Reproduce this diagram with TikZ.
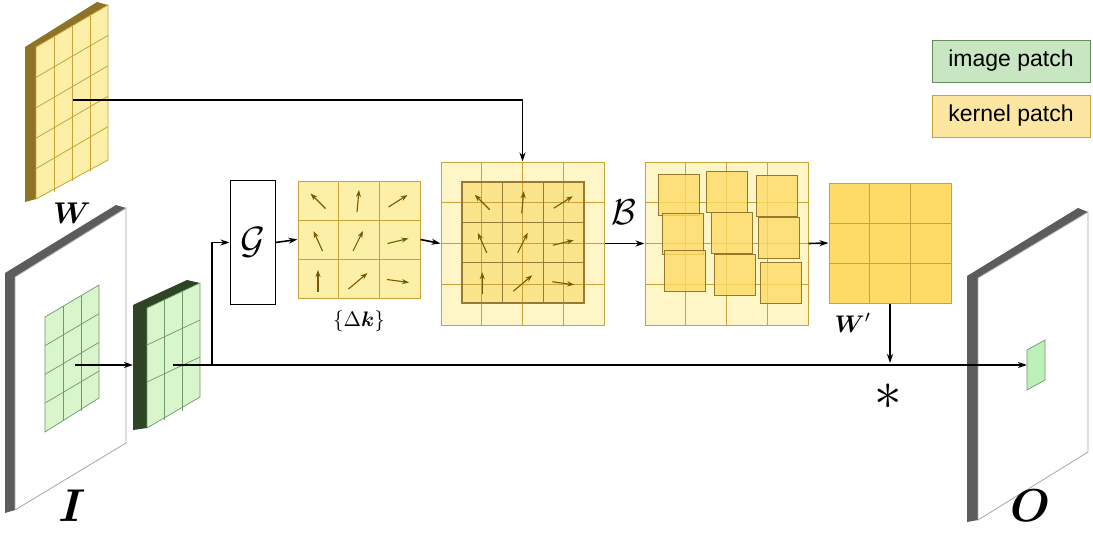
\documentclass[tikz,border=0pt]{standalone}
\usepackage{amsmath}
\usepackage{fontspec}
\newfontfamily\legfont{Liberation Sans}
\usetikzlibrary{arrows.meta}
\definecolor{kline}{HTML}{C9A23A}
\definecolor{kfill}{HTML}{FCEFA8}
\definecolor{kpale}{HTML}{FFF6C8}
\definecolor{kmid}{HTML}{FBE58C}
\definecolor{kdeep}{HTML}{FDDB66}
\definecolor{kdark}{HTML}{7A5A00}
\definecolor{gfill}{HTML}{D8F5CC}
\definecolor{gline}{HTML}{6F9A68}
\definecolor{gdark}{HTML}{2E4424}
\definecolor{side}{HTML}{5C5C5C}
\definecolor{leggreen}{HTML}{C9E6C2}
\definecolor{legyellow}{HTML}{FDE6A2}
\tikzset{
  conn/.style={line width=1.6pt,-{Stealth[length=9pt,width=6pt]}},
  varrow/.style={kdark,line width=1.1pt,-{Stealth[length=7pt,width=5pt]}},
  gridbox/.style={draw=kline,line width=1pt,inner sep=0pt},
  legbox/.style={draw,line width=1pt,minimum width=158pt,minimum height=42pt,font=\legfont\fontsize{23}{25}\selectfont}
}
\newcommand{\cellarrows}[3]{% #1 = x0, #2 = y0 (top-left), #3 cell size
  \foreach \c/\r/\dx/\dy in {0/0/-15/-15,1/0/2/-22,2/0/19/-12,0/1/-9/-20,1/1/10/-20,2/1/21/-5,0/2/0/-22,1/2/19/-16,2/2/22/3}{
    \draw[varrow] ({#1+(\c+0.5)*#3-\dx/2},{#2+(\r+0.5)*#3-\dy/2}) -- ++(\dx,\dy);
  }}
\begin{document}
\begin{tikzpicture}[x=1pt,y=-1pt]
\useasboundingbox (0,0) rectangle (1093,533);
% ---------- W kernel slab
\fill[kdark!85] (25,202) -- (25,47) -- (97,2) -- (108,5) -- (36,47) -- (36,199) -- cycle;
\filldraw[fill=kfill,draw=kline,line width=0.8pt] (36,199) -- (36,47) -- (108,5) -- (108,160) -- cycle;
\foreach \i in {1,2,3} \draw[kline,line width=0.8pt] ({36+18*\i},{47-10.5*\i}) -- ++(0,155);
\foreach \j in {1,2,3,4} \draw[kline,line width=0.8pt] (36,{47+30.4*\j}) -- ++(72,-42);
\coordinate (Wc) at (73,100);
\node[scale=3] (Wl) at (72,213) {$\boldsymbol{W}$};
% ---------- I image slab
\fill[side] (5,513) -- (5,273) -- (116,205) -- (126,208) -- (15,277) -- (15,510) -- cycle;
\filldraw[fill=white,draw=black!35,line width=0.8pt] (15,510) -- (15,277) -- (126,208) -- (126,443) -- cycle;
\filldraw[fill=gfill,draw=gline,line width=0.7pt] (45,432) -- (45,317) -- (99,285) -- (99,398) -- cycle;
\foreach \i in {1,2} \draw[gline,line width=0.7pt] ({45+18*\i},{317-10.7*\i}) -- ++(0,115);
\foreach \j in {1,2,3} \draw[gline,line width=0.7pt] (45,{317+28.7*\j}) -- ++(54,-32);
\coordinate (Ic) at (75,365);
\node[scale=4.6] (Il) at (72,506) {$\boldsymbol{I}$};
% ---------- green patch slab
\fill[gdark] (133,430) -- (133,305) -- (187,280) -- (200,283) -- (147,308) -- (147,428) -- cycle;
\filldraw[fill=gfill,draw=gline,line width=0.7pt] (147,428) -- (147,308) -- (200,283) -- (200,397) -- cycle;
\foreach \i in {1,2} \draw[gline,line width=0.7pt] ({147+17.7*\i},{308-8.3*\i}) -- ++(0,120);
\foreach \j in {1,2} \draw[gline,line width=0.7pt] (147,{308+37*\j}) -- ++(53,-25);
\coordinate (Pc) at (173,365);
% ---------- G box
\node[draw,line width=1pt,minimum width=45pt,minimum height=124pt,inner sep=0pt] (G) at (252.5,242.5) {};
\node[scale=3.8] (Gl) at (G.center) {$\mathcal{G}$};
% ---------- Delta k grid
\node[gridbox,fill=kfill,minimum width=122pt,minimum height=117pt] (D) at (359,239.5) {};
\foreach \i in {1,2} {\draw[kline,line width=1pt] ({298+40.7*\i},181) -- ++(0,117); \draw[kline,line width=1pt] (298,{181+39*\i}) -- ++(122,0);}
\cellarrows{298}{181}{40}
\node[scale=2.1] (Dl) at (359,321) {$\{\Delta\boldsymbol{k}\}$};
% ---------- big sampled grid
\node[gridbox,fill=kpale,minimum width=163pt,minimum height=163pt] (S) at (522.5,243.5) {};
\fill[kmid] (462,182) rectangle (584,303);
\foreach \i in {1,2,3} {\draw[kline,line width=1pt] ({441+40.75*\i},162) -- ++(0,163); \draw[kline,line width=1pt] (441,{162+40.75*\i}) -- ++(163,0);}
\draw[kdark!80,line width=1.1pt] (462,182) rectangle (584,303);
\foreach \i in {1,2} {\draw[kdark!80,line width=1.1pt] ({462+40.7*\i},182) -- ++(0,121); \draw[kdark!80,line width=1.1pt] (462,{182+40.3*\i}) -- ++(122,0);}
\cellarrows{462}{182}{40.5}
% ---------- deformed patches grid
\node[gridbox,fill=kpale,minimum width=163pt,minimum height=163pt] (T) at (726.5,243.5) {};
\foreach \i in {1,2,3} {\draw[kline,line width=1pt] ({645+40.75*\i},162) -- ++(0,163); \draw[kline,line width=1pt] (645,{162+40.75*\i}) -- ++(163,0);}
\foreach \x/\y in {658/174,706/171,756/175,662/213,711/212,758/217,664/250,714/254,760/262}
  \filldraw[fill=kdeep,fill opacity=0.8,draw=kline!75!black,line width=1pt] (\x,\y) rectangle ++(41,41);
\node[scale=3.6] (Bl) at (624,212) {$\mathcal{B}$};
% ---------- W' grid
\node[gridbox,fill=kdeep,minimum width=122pt,minimum height=120pt] (Wp) at (890,243) {};
\foreach \i in {1,2} {\draw[kline,line width=1pt] ({829+40.7*\i},183) -- ++(0,120); \draw[kline,line width=1pt] (829,{183+40*\i}) -- ++(122,0);}
\node[scale=2.4] (Wpl) at (853,323) {$\boldsymbol{W}'$};
% ---------- O output slab
\fill[side] (967,522) -- (967,276) -- (1078,208) -- (1088,212) -- (978,278) -- (978,520) -- cycle;
\filldraw[fill=white,draw=black!35,line width=0.8pt] (978,520) -- (978,278) -- (1088,212) -- (1088,452) -- cycle;
\node[scale=4.6] (Ol) at (1030,506) {$\boldsymbol{O}$};
\coordinate (Oin) at (1027,365);
% ---------- asterisk
\coordinate (St) at (890,363);
\node[scale=5.5] (Ast) at (888,397) {$\ast$};
% ---------- connectors
\draw[conn] (Ic) -- (133,365);
\draw[conn] (Pc) -- (Oin);
\filldraw[fill=leggreen!80!green!70!white,draw=gline,line width=0.7pt] (1027,390) -- (1027,350) -- (1045,340) -- (1045,380) -- cycle;
\draw[conn] (212,365) |- (G.west);
\draw[conn] (G.east) -- (D.west);
\draw[conn] (D.east) -- (S.west);
\draw[conn] (S.east) -- (T.west);
\draw[conn] (T.east) -- (Wp.west);
\draw[conn] (Wc) -| (S.north);
\draw[conn] (Wp.south) -- (St);
% ---------- legend
\node[legbox,fill=leggreen,draw=gline!90!black] (L1) at (1011,61) {image patch};
\node[legbox,fill=legyellow,draw=kline] (L2) at (1011,116) {kernel patch};
\end{tikzpicture}
\end{document}
